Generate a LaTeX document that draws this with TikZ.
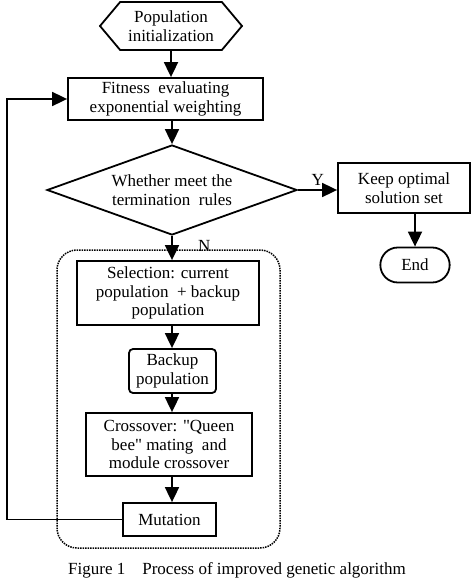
\documentclass[tikz,border=0pt]{standalone}
\usepackage{fontspec}
\setmainfont{Liberation Serif}
\usetikzlibrary{shapes.geometric,shapes.symbols,shapes.misc,arrows.meta,positioning}

\begin{document}
\begin{tikzpicture}[x=1pt, y=-1pt,
    every node/.style={font=\fontsize{17}{18.5}\selectfont, align=center},
    procbox/.style={draw, line width=1.8pt, rectangle, inner sep=1pt},
    flow/.style={line width=1.8pt, -{Triangle[length=15pt,width=14pt]}}]
  \clip (0,0) rectangle (474,580);

  \node[draw, line width=1.8pt, signal, signal to=east and west, signal pointer angle=100,
        minimum width=142pt, minimum height=48pt, inner sep=0pt] (init) at (171,26) {Population\\initialization};
  \node[procbox, minimum width=195pt, minimum height=42pt] (fitness) at (165.5,99) {Fitness\ \ evaluating\\exponential weighting};
  \node[draw, line width=1.8pt, diamond, aspect=2.78, minimum width=250pt, minimum height=90pt,
        inner sep=0pt] (decide) at (172,190) {Whether meet the\\termination\ \ rules};
  \node[procbox, minimum width=132pt, minimum height=50pt] (keep) at (404,188) {Keep optimal\\solution set};
  \node[draw, line width=1.8pt, rounded rectangle, minimum width=76pt, minimum height=35pt] (end) at (415,265) {End};

  % inner loop
  \draw[line width=1.5pt, densely dotted, rounded corners=20pt] (57,250) rectangle (280,548);
  \node[procbox, minimum width=182pt, minimum height=64pt] (select) at (168,293) {Selection: current\\population\ \ + backup\\population};
  \node[procbox, rounded corners=4pt, minimum width=87pt, minimum height=44pt] (backup) at (172.5,371) {Backup\\population};
  \node[procbox, minimum width=166pt, minimum height=63pt] (cross) at (169,444.5) {Crossover: \textquotedbl Queen\\bee\textquotedbl{} mating\ \ and\\module crossover};
  \node[procbox, minimum width=93pt, minimum height=33pt] (mutate) at (169.5,519.5) {Mutation};

  \draw[flow] (init) -- (init |- fitness.north);
  \draw[flow] (fitness.south -| decide.north) -- (decide.north);
  \draw[flow] (decide.east) -- (keep.west |- decide.east) node[above left=0pt and 9pt] {Y};
  \draw[flow] (keep.south -| end.north) -- (end.north);
  \draw[flow] (decide.south) -- (decide.south |- select.north) node[above right=4pt and 22pt] {N};
  \draw[flow] (select.south -| decide.south) -- (backup.north -| decide.south);
  \draw[flow] (backup.south -| decide.south) -- (cross.north -| decide.south);
  \draw[flow] (cross.south -| decide.south) -- (mutate.north -| decide.south);
  \draw[flow] (mutate.west) -- ++(-115,0) |- (fitness.west);

  \node[anchor=south, inner sep=1pt] (caption) at (237,579) {Figure 1\quad Process of improved genetic algorithm};
\end{tikzpicture}
\end{document}
